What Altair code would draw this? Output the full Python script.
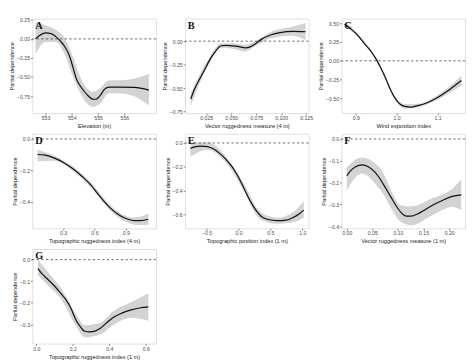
import altair as alt
import pandas as pd

# ---------------- data ----------------
letters = ["A", "B", "C", "D", "E", "F", "G"]
x_titles = [
    "Elevation (m)",
    "Vector ruggedness measure (4 m)",
    "Wind exposition index",
    "Topographic ruggedness index (4 m)",
    "Topographic position index (1 m)",
    "Vector ruggedness measure (1 m)",
    "Topographic ruggedness index (1 m)",
]

# Panel A
A_x = [552.62, 552.80, 553.0, 553.21, 553.39, 553.57, 553.75, 553.93, 554.05, 554.17,
       554.35, 554.58, 554.82, 554.92, 555.06, 555.24, 555.42, 555.77, 556.37, 556.93]
A_y = [0.0, 0.05, 0.08, 0.07, 0.03, -0.03, -0.11, -0.24, -0.38, -0.52,
       -0.63, -0.73, -0.79, -0.79, -0.75, -0.66, -0.63, -0.63, -0.635, -0.67]
A_bx = [552.62, 553.0, 553.39, 553.75, 554.05, 554.35, 554.82, 555.06, 555.42, 555.77, 556.37, 556.93]
A_lo = [-0.20, -0.04, -0.04, -0.22, -0.50, -0.73, -0.89, -0.85, -0.71, -0.71, -0.75, -0.87]
A_hi = [0.22, 0.18, 0.12, 0.0, -0.24, -0.52, -0.69, -0.65, -0.54, -0.54, -0.52, -0.46]

# Panel B
B_x = [0.0094, 0.0133, 0.018, 0.0228, 0.0275, 0.0323, 0.037, 0.040, 0.045, 0.0513,
       0.0577, 0.064, 0.0688, 0.0736, 0.080, 0.0894, 0.099, 0.1117, 0.1244]
B_y = [-0.615, -0.508, -0.41, -0.314, -0.217, -0.136, -0.071, -0.049, -0.045, -0.049,
       -0.058, -0.071, -0.061, -0.032, 0.019, 0.065, 0.091, 0.103, 0.10]
B_bx = [0.0094, 0.0275, 0.040, 0.0513, 0.064, 0.0736, 0.0894, 0.1117, 0.1244]
B_lo = [-0.686, -0.249, -0.071, -0.081, -0.11, -0.058, 0.032, 0.058, 0.01]
B_hi = [-0.55, -0.184, -0.023, -0.023, -0.039, -0.006, 0.097, 0.155, 0.194]

# Panel C
C_x = [0.873, 0.888, 0.904, 0.919, 0.935, 0.950, 0.962, 0.974, 0.985, 0.997,
       1.0085, 1.020, 1.0357, 1.051, 1.0744, 1.0977, 1.1287, 1.158]
C_y = [0.488, 0.427, 0.346, 0.244, 0.142, 0.020, -0.102, -0.244, -0.386, -0.508,
       -0.581, -0.61, -0.618, -0.60, -0.561, -0.496, -0.386, -0.264]
C_bx = [0.873, 0.904, 0.950, 0.997, 1.020, 1.051, 1.0977, 1.1287, 1.158]
C_lo = [0.455, 0.325, 0.0, -0.53, -0.64, -0.625, -0.525, -0.43, -0.333]
C_hi = [0.52, 0.367, 0.04, -0.486, -0.58, -0.575, -0.467, -0.342, -0.195]

# Panel D
D_x = [0.056, 0.129, 0.218, 0.306, 0.394, 0.482, 0.571, 0.629, 0.688, 0.747,
       0.821, 0.894, 0.982, 1.041, 1.115]
D_y = [-0.099, -0.103, -0.122, -0.151, -0.19, -0.239, -0.297, -0.346, -0.394, -0.437,
       -0.478, -0.505, -0.52, -0.52, -0.511]
D_bx = [0.056, 0.218, 0.394, 0.571, 0.688, 0.821, 0.982, 1.041, 1.115]
D_lo = [-0.142, -0.138, -0.204, -0.313, -0.41, -0.495, -0.546, -0.548, -0.546]
D_hi = [-0.068, -0.107, -0.176, -0.281, -0.378, -0.461, -0.50, -0.494, -0.472]

# Panel E
E_x = [-0.755, -0.69, -0.59, -0.49, -0.39, -0.293, -0.194, -0.094, -0.02, 0.055,
       0.129, 0.204, 0.278, 0.353, 0.452, 0.601, 0.75, 0.85, 0.949, 1.023]
E_y = [-0.046, -0.033, -0.026, -0.031, -0.051, -0.089, -0.14, -0.204, -0.268, -0.345,
       -0.429, -0.506, -0.567, -0.613, -0.639, -0.651, -0.646, -0.626, -0.595, -0.562]
E_bx = [-0.755, -0.49, -0.194, 0.055, 0.353, 0.601, 0.85, 1.023]
E_lo = [-0.115, -0.056, -0.166, -0.375, -0.643, -0.677, -0.664, -0.626]
E_hi = [0.0, 0.005, -0.114, -0.315, -0.583, -0.626, -0.582, -0.485]

# Panel F
F_x = [0.0, 0.008, 0.0173, 0.0297, 0.042, 0.0545, 0.0638, 0.073, 0.0854, 0.0978,
       0.107, 0.1164, 0.1257, 0.138, 0.1536, 0.169, 0.1876, 0.206, 0.2235]
F_y = [-0.168, -0.144, -0.127, -0.119, -0.127, -0.151, -0.179, -0.214, -0.263, -0.312,
       -0.34, -0.354, -0.354, -0.344, -0.323, -0.302, -0.281, -0.263, -0.256]
F_bx = [0.0, 0.0297, 0.0638, 0.107, 0.1257, 0.169, 0.206, 0.2235]
F_lo = [-0.235, -0.158, -0.228, -0.382, -0.396, -0.347, -0.312, -0.326]
F_hi = [-0.13, -0.085, -0.13, -0.305, -0.309, -0.27, -0.228, -0.186]

# Panel G
G_x = [0.0085, 0.029, 0.063, 0.097, 0.1305, 0.164, 0.19, 0.215, 0.241, 0.266,
       0.292, 0.325, 0.351, 0.385, 0.419, 0.469, 0.52, 0.571, 0.614]
G_y = [-0.042, -0.064, -0.092, -0.12, -0.153, -0.188, -0.226, -0.276, -0.311, -0.332,
       -0.335, -0.33, -0.318, -0.293, -0.269, -0.248, -0.233, -0.223, -0.219]
G_bx = [0.0085, 0.063, 0.1305, 0.215, 0.266, 0.351, 0.419, 0.52, 0.614]
G_lo = [-0.071, -0.12, -0.177, -0.304, -0.36, -0.347, -0.304, -0.269, -0.283]
G_hi = [0.0, -0.057, -0.127, -0.248, -0.304, -0.293, -0.24, -0.198, -0.156]

x_domains = [[552.5, 557.2], [0.0037, 0.1275], [0.865, 1.167], [0.006, 1.188],
             [-0.84, 1.10], [-0.0105, 0.231], [-0.022, 0.656]]
y_domains = [[-0.972, 0.266], [-0.765, 0.24], [-0.70, 0.565], [-0.569, 0.033],
             [-0.715, 0.077], [-0.41, 0.024], [-0.389, 0.0495]]
x_ticks = [[553, 554, 555, 556], [0.025, 0.05, 0.075, 0.1, 0.125], [0.9, 1.0, 1.1],
           [0.3, 0.6, 0.9], [-0.5, 0.0, 0.5, 1.0], [0.0, 0.05, 0.1, 0.15, 0.2],
           [0.0, 0.2, 0.4, 0.6]]
y_ticks = [[-0.75, -0.5, -0.25, 0.0, 0.25], [-0.75, -0.5, -0.25, 0.0],
           [-0.5, -0.25, 0.0, 0.25, 0.5], [-0.4, -0.2, 0.0], [-0.6, -0.4, -0.2, 0.0],
           [-0.4, -0.3, -0.2, -0.1, 0.0], [-0.3, -0.2, -0.1, 0.0]]
x_formats = ["d", ".3f", ".1f", ".1f", ".1f", ".2f", ".1f"]
y_formats = [".2f", ".2f", ".2f", ".1f", ".1f", ".1f", ".1f"]

curves = [(A_x, A_y), (B_x, B_y), (C_x, C_y), (D_x, D_y), (E_x, E_y), (F_x, F_y), (G_x, G_y)]
bands = [(A_bx, A_lo, A_hi), (B_bx, B_lo, B_hi), (C_bx, C_lo, C_hi), (D_bx, D_lo, D_hi),
         (E_bx, E_lo, E_hi), (F_bx, F_lo, F_hi), (G_bx, G_lo, G_hi)]

W, H = 132, 101
FONT = "Liberation Sans"


def axis_common():
    return dict(grid=False, domain=False, ticks=True, tickSize=2, tickColor="#333333",
                tickWidth=0.6, labelFontSize=5.5, titleFontSize=6, labelColor="#4d4d4d",
                titleColor="#222222", labelPadding=1, titlePadding=2, labelFont=FONT,
                titleFont=FONT, titleFontWeight="normal", labelOverlap=False)


def panel(i):
    (cx, cy) = curves[i]
    (bx, lo, hi) = bands[i]
    line_df = pd.DataFrame({"x": cx, "y": cy})
    band_df = pd.DataFrame({"x": bx, "lo": lo, "hi": hi})
    xs = alt.Scale(domain=x_domains[i], nice=False, zero=False)
    ys = alt.Scale(domain=y_domains[i], nice=False, zero=False)
    xax = alt.Axis(values=x_ticks[i], format=x_formats[i], title=x_titles[i], **axis_common())
    yax = alt.Axis(values=y_ticks[i], format=y_formats[i], title="Partial dependence", **axis_common())

    area = alt.Chart(band_df).mark_area(color="#d3d3d3", interpolate="monotone", clip=True).encode(
        x=alt.X("x:Q", scale=xs, axis=xax),
        y=alt.Y("lo:Q", scale=ys, axis=yax),
        y2="hi:Q",
    )
    line = alt.Chart(line_df).mark_line(color="#111111", strokeWidth=1.3,
                                        interpolate="monotone", clip=True).encode(
        x=alt.X("x:Q", scale=xs, axis=xax),
        y=alt.Y("y:Q", scale=ys, axis=yax),
    )
    zero = alt.Chart(pd.DataFrame({"z": [0.0]})).mark_rule(
        color="#222222", strokeDash=[2.5, 2.5], strokeWidth=0.7).encode(
        y=alt.Y("z:Q", scale=ys, axis=yax))
    lab = alt.Chart(pd.DataFrame({"t": [letters[i]]})).mark_text(
        font="Liberation Serif", fontWeight="bold", fontSize=11, align="left",
        baseline="top", color="#111111").encode(
        text="t:N", x=alt.value(3), y=alt.value(2))
    return alt.layer(area, line, zero, lab).properties(width=W, height=H)


chart = alt.concat(*[panel(i) for i in range(7)], columns=3, spacing=4).properties(
    padding={"left": 0, "top": -3, "right": 0, "bottom": 0}
).configure_view(stroke="#9a9a9a", strokeWidth=0.8).configure(background="white")

chart.save("out.html", embed_options={"renderer": "svg", "actions": False})
